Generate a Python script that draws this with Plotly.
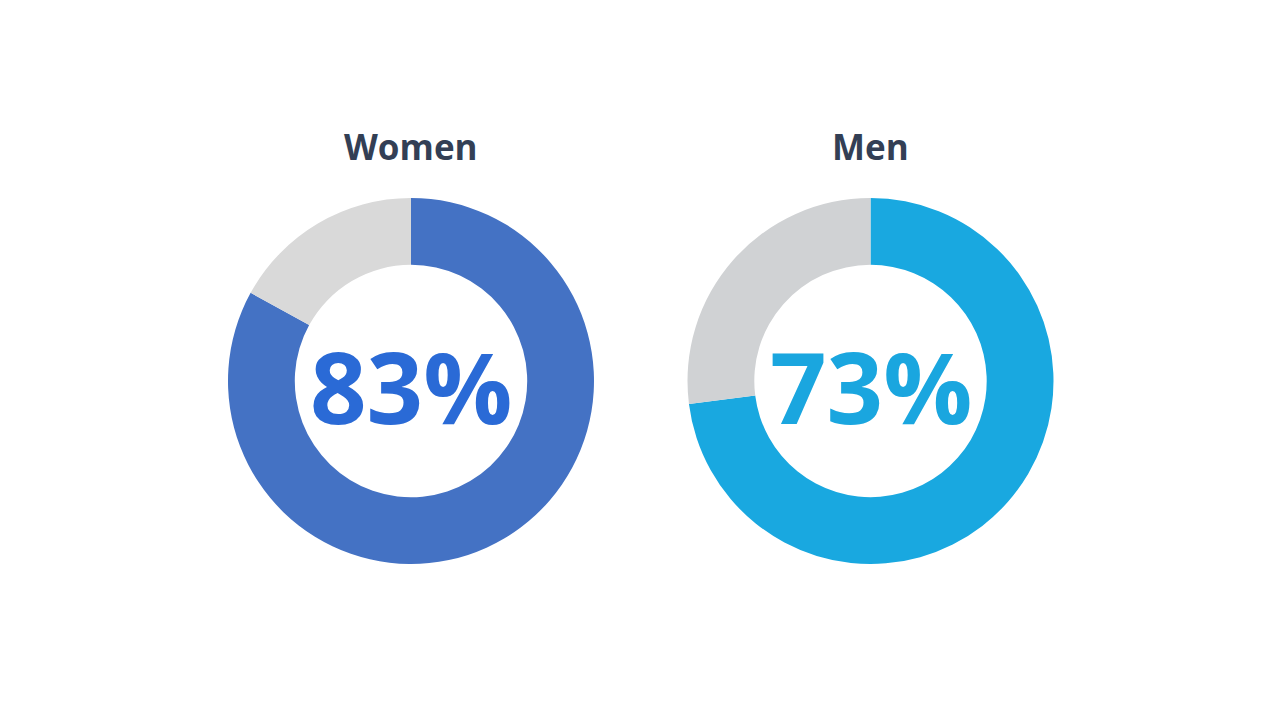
import plotly.graph_objects as go

groups = ["Women", "Men"]
shares = [83, 73]
labels = ["Yes", "No"]
main_colors = ["#4472C4", "#19A8E0"]
rest_colors = ["#D9D9D9", "#D0D2D4"]
text_colors = ["#2A6AD6", "#1AA6DF"]

centers_x = [411, 870.5]
center_y = 381
radius = 183
W, H = 1280, 720

fig = go.Figure()
for i, g in enumerate(groups):
    cx = centers_x[i]
    fig.add_trace(go.Pie(
        labels=labels, values=[shares[i], 100 - shares[i]],
        hole=0.635, sort=False, direction="clockwise", rotation=0,
        marker=dict(colors=[main_colors[i], rest_colors[i]], line=dict(width=0)),
        textinfo="none", hoverinfo="label+percent", showlegend=False,
        domain=dict(x=[(cx - radius) / W, (cx + radius) / W],
                    y=[1 - (center_y + radius) / H, 1 - (center_y - radius) / H]),
    ))
    fig.add_annotation(x=cx / W, y=1 - 385 / H, xref="paper", yref="paper",
                       text=f"{shares[i]}%", showarrow=False,
                       font=dict(family="Open Sans", size=99, color=text_colors[i], weight="bold"),
                       xanchor="center", yanchor="middle")
    fig.add_annotation(x=cx / W, y=1 - 147 / H, xref="paper", yref="paper",
                       text=g, showarrow=False,
                       font=dict(family="Open Sans", size=35, color="#333F55", weight="bold"),
                       xanchor="center", yanchor="middle")

fig.update_layout(width=W, height=H, margin=dict(l=0, r=0, t=0, b=0),
                  paper_bgcolor="white", plot_bgcolor="white")
fig.write_html("out.html")
